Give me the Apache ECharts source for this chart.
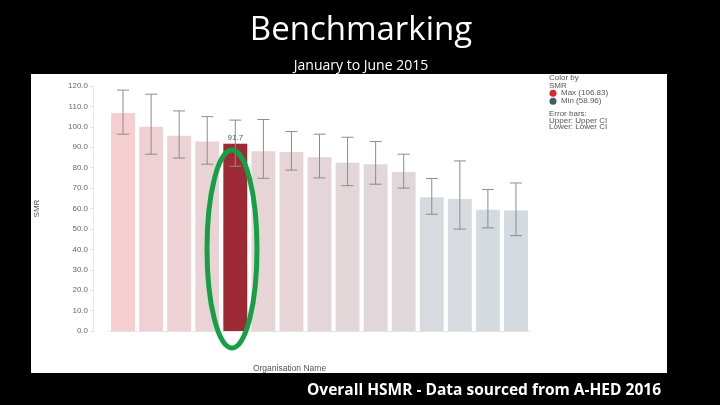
<!DOCTYPE html>
<html>
<head>
<meta charset="utf-8">
<script src="https://cdn.jsdelivr.net/npm/echarts@6/dist/echarts.min.js"></script>
<style>
  html, body { margin: 0; padding: 0; background: #000; }
  #chart { width: 720px; height: 405px; }
</style>
</head>
<body>
<div id="chart"></div>
<script>
// organisations are anonymised in the source, so just index them
const organisations = ['1', '2', '3', '4', '5', '6', '7', '8', '9', '10', '11', '12', '13', '14', '15']
const smr = [106.83, 100.0, 95.6, 92.8, 91.7, 88.1, 87.7, 85.1, 82.4, 81.7, 77.9, 65.5, 64.7, 59.4, 58.96]
const upperCI = [118.0, 116.0, 107.8, 105.0, 103.3, 103.6, 97.7, 96.4, 94.9, 92.8, 86.6, 74.7, 83.3, 69.3, 72.5]
const lowerCI = [96.4, 86.6, 84.7, 81.7, 80.7, 74.8, 78.8, 75.0, 71.2, 71.9, 70.0, 57.2, 49.9, 50.5, 46.7]
const highlightIndex = 4
const yTicks = { min: 0, max: 120, interval: 10 }

const highlight = smr.map((v, i) => (i === highlightIndex ? v : '-'))
const errorData = organisations.map((c, i) => [i, lowerCI[i], upperCI[i]])

const chart = echarts.init(document.getElementById('chart'))

chart.setOption({
  backgroundColor: '#000',
  animation: false,
  title: [{
    text: 'Benchmarking',
    left: 356,
    top: 9,
    textAlign: 'center',
    textStyle: { color: '#fff', fontFamily: 'Open Sans', fontWeight: 'normal', fontSize: 33 }
  }, {
    text: 'January to June 2015',
    left: 356,
    top: 54,
    textAlign: 'center',
    textStyle: { color: '#fff', fontFamily: 'Open Sans', fontWeight: 'normal', fontSize: 14 }
  }, {
    text: 'Overall HSMR - Data sourced from A-HED 2016',
    left: 479,
    top: 378,
    textAlign: 'center',
    textStyle: { color: '#fff', fontFamily: 'Open Sans', fontWeight: 'bold', fontSize: 15.5 }
  }],
  graphic: [{
    type: 'rect',
    z: -10,
    shape: { x: 31, y: 74, width: 636, height: 299 },
    style: { fill: '#fff' }
  }, {
    type: 'group',
    left: 549,
    top: 74,
    z: 10,
    children: [
      { type: 'text', x: 1, y: 0, style: { text: 'Color by\nSMR', fill: '#555', font: '8px Liberation Sans', lineHeight: 7.5 } },
      { type: 'circle', shape: { cx: 5, cy: 19, r: 3.5 }, style: { fill: '#d42a34' } },
      { type: 'text', x: 13, y: 15, style: { text: 'Max (106.83)', fill: '#555', font: '8px Liberation Sans' } },
      { type: 'circle', shape: { cx: 5, cy: 27, r: 3.5 }, style: { fill: '#3b5e6b' } },
      { type: 'text', x: 13, y: 23, style: { text: 'Min (58.96)', fill: '#555', font: '8px Liberation Sans' } },
      { type: 'text', x: 1, y: 36, style: { text: 'Error bars:\nUpper: Upper CI\nLower: Lower CI', fill: '#555', font: '8px Liberation Sans', lineHeight: 6.8 } }
    ]
  }, {
    // green hand-drawn ring round the highlighted organisation
    type: 'ellipse',
    z: 20,
    shape: { cx: 232, cy: 249, rx: 25, ry: 99 },
    style: { fill: 'none', stroke: '#16a046', lineWidth: 5 }
  }],
  grid: { left: 109, top: 86, width: 421, height: 245 },
  visualMap: {
    show: false,
    seriesIndex: 0,
    min: 58.96,
    max: 106.83,
    dimension: 1,
    inRange: { color: ['#d3dbe0', '#e2d6d9', '#f4ced0'] }
  },
  xAxis: {
    type: 'category',
    data: organisations,
    name: 'Organisation Name',
    nameLocation: 'middle',
    nameGap: 33,
    nameTextStyle: { color: '#555', fontSize: 8.5, fontFamily: 'Liberation Sans', padding: [0, 60, 0, 0] },
    axisLine: { lineStyle: { color: '#e4e4e4' } },
    axisTick: { show: false },
    axisLabel: { show: false }
  },
  yAxis: {
    type: 'value',
    min: yTicks.min,
    max: yTicks.max,
    interval: yTicks.interval,
    offset: 16,
    name: 'SMR',
    nameLocation: 'middle',
    nameGap: 52,
    nameTextStyle: { color: '#555', fontSize: 8, fontFamily: 'Liberation Sans' },
    axisLine: { show: true, lineStyle: { color: '#e8e8e8' } },
    axisTick: { show: true, length: 3, lineStyle: { color: '#e0e0e0' } },
    splitLine: { show: false },
    axisLabel: {
      color: '#666',
      fontSize: 8,
      fontFamily: 'Liberation Sans',
      margin: 5,
      formatter: v => v.toFixed(1)
    }
  },
  series: [{
    type: 'bar',
    data: smr,
    barWidth: '85%',
    z: 2
  }, {
    type: 'bar',
    data: highlight,
    barWidth: '85%',
    barGap: '-100%',
    z: 3,
    itemStyle: { color: '#9e2a35' },
    label: {
      show: true,
      position: 'top',
      distance: 2,
      color: '#555',
      fontSize: 8,
      fontFamily: 'Liberation Sans',
      formatter: p => p.value.toFixed(1)
    }
  }, {
    type: 'custom',
    z: 5,
    data: errorData,
    renderItem: (params, api) => {
      const x = api.value(0)
      const lo = api.coord([x, api.value(1)])
      const hi = api.coord([x, api.value(2)])
      const half = 6
      const style = { stroke: '#8c8c8c', lineWidth: 1 }
      return {
        type: 'group',
        children: [
          { type: 'line', shape: { x1: hi[0], y1: hi[1], x2: lo[0], y2: lo[1] }, style },
          { type: 'line', shape: { x1: hi[0] - half, y1: hi[1], x2: hi[0] + half, y2: hi[1] }, style },
          { type: 'line', shape: { x1: lo[0] - half, y1: lo[1], x2: lo[0] + half, y2: lo[1] }, style }
        ]
      }
    }
  }]
})
</script>
</body>
</html>
